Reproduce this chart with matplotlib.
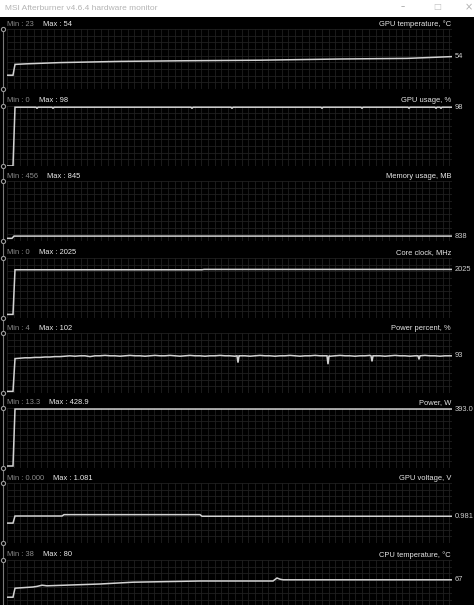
import matplotlib.pyplot as plt
import matplotlib.transforms as mtransforms
from matplotlib.patches import Rectangle
from matplotlib.lines import Line2D
import numpy as np

W, H = 474, 610

# ---- data (t = sample position across the graph, 0..445) ----
gpu_temp_t = [0, 6, 8, 20, 53, 113, 173, 253, 333, 400, 430, 445]
gpu_temp_v = [23, 23, 41, 42, 44, 46, 47, 48, 50, 51, 53, 54]

gpu_usage_t = [0, 6, 8, 29, 30, 31, 45, 46, 47, 184, 185, 186, 224, 225, 226,
               314, 315, 316, 354, 355, 356, 401, 402, 403, 428, 429, 430,
               433, 434, 435, 445]
gpu_usage_v = [0, 0, 98, 98, 96, 98, 98, 96, 98, 98, 96, 98, 98, 96, 98,
               98, 96, 98, 98, 96, 98, 98, 96, 98, 98, 96, 98,
               98, 96, 98, 98]

mem_t = [0, 5, 7, 445]
mem_v = [456, 456, 838, 838]

clock_t = [0, 6, 8, 195, 197, 445]
clock_v = [150, 150, 2010, 2010, 2025, 2025]

power_pct_t = [0, 6] + list(range(8, 446, 5)) + [445]
power_pct_v = [4, 4,
               86, 87, 88, 88, 89, 89, 90, 90, 91, 91,
               92, 93, 92, 93, 93, 91, 93, 93, 94, 93,
               93, 92, 93, 94, 93, 93, 92, 93, 94, 93,
               93, 94, 93, 92, 93, 94, 93, 93, 92, 93,
               93, 94, 93, 93, 92, 93, 93, 92, 93, 94,
               93, 93, 92, 93, 93, 94, 93, 92, 93, 93,
               94, 93, 93, 92, 93, 94, 93, 93, 92, 93,
               93, 94, 93, 93, 92, 93, 94, 93, 93, 92,
               93, 93, 94, 93, 93, 92, 93, 93,
               93]
power_dip_t = [230, 231, 232, 320, 321, 322, 364, 365, 366, 411, 412, 413]
power_dip_v = [93, 76, 93, 93, 72, 93, 93, 79, 93, 93, 84, 93]

power_w_t = [0, 6, 8, 445]
power_w_v = [13.3, 13.3, 393.0, 393.0]

volt_t = [0, 6, 8, 55, 57, 193, 195, 445]
volt_v = [0.73, 0.73, 0.99, 0.99, 1.04, 1.04, 0.981, 0.981]

cpu_temp_t = [0, 6, 8, 26, 30, 35, 40, 93, 126, 193, 226, 266, 270, 273, 276, 386, 445]
cpu_temp_v = [38, 38, 53, 55, 56, 58, 57, 60, 63, 65, 65, 65, 70, 68, 67, 67, 67]

names = ["GPU temperature, °C", "GPU usage, %", "Memory usage, MB", "Core clock, MHz",
         "Power percent, %", "Power, W", "GPU voltage, V", "CPU temperature, °C"]
mins = ["23", "0", "456", "0", "4", "13.3", "0.000", "38"]
maxs = ["54", "98", "845", "2025", "102", "428.9", "1.081", "80"]
current = ["54", "98", "838", "2025", "93", "393.0", "0.981", "67"]
limits = [(0, 100), (0, 100), (0, 10240), (0, 2500), (0, 150), (0, 400), (0, 2.2), (0, 100)]

# merge power percent dips into the base trace
pp = sorted(zip(power_pct_t + power_dip_t, power_pct_v + power_dip_v))
power_pct_t2 = [p[0] for p in pp]
power_pct_v2 = [p[1] for p in pp]

series = [(gpu_temp_t, gpu_temp_v), (gpu_usage_t, gpu_usage_v), (mem_t, mem_v),
          (clock_t, clock_v), (power_pct_t2, power_pct_v2), (power_w_t, power_w_v),
          (volt_t, volt_v), (cpu_temp_t, cpu_temp_v)]

# ---- layout (pixels) ----
tops = [29, 106, 181, 258, 333, 408, 483, 560]
ph = 60
gx0, gw = 7, 445

font = 'Liberation Sans'
fig = plt.figure(figsize=(W / 100, H / 100), dpi=100, facecolor='black')
renderer = fig.canvas.get_renderer()


def fx(x):
    return x / W


def fy(y):
    return 1 - y / H


# title bar
fig.add_artist(Rectangle((0, fy(17)), 1, 17 / H, transform=fig.transFigure,
                         facecolor='white', edgecolor='none', zorder=5))
fig.text(fx(5), fy(8), "MSI Afterburner v4.6.4 hardware monitor", color='#b4b4b4',
         fontsize=6, family=font, va='center', ha='left', zorder=6)
fig.text(fx(403), fy(7), "–", color='#a0a0a0', fontsize=6, ha='center', va='center', zorder=6)
fig.text(fx(437), fy(7), "□", color='#c0c0c0', fontsize=6, ha='center', va='center', zorder=6)
fig.text(fx(469), fy(7), "×", color='#b0b0b0', fontsize=7, ha='center', va='center', zorder=6)

# left rail
fig.add_artist(Line2D([fx(3), fx(3)], [fy(tops[0]), fy(605)], transform=fig.transFigure,
                      color='#7a7a7a', lw=0.8))

for i, (t, v) in enumerate(series):
    top = tops[i]
    ax = fig.add_axes([fx(gx0), fy(top + ph), gw / W, ph / H])
    ax.set_facecolor('black')
    lo, hi = limits[i]
    ax.set_xlim(0, 445)
    ax.set_ylim(lo, hi)
    ax.set_xticks(np.arange(0, 446, 6.7))
    ax.set_yticks(np.linspace(lo, hi, 10))
    ax.grid(True, color='#202020', lw=0.6)
    ax.tick_params(length=0, labelbottom=False, labelleft=False)
    for s in ax.spines.values():
        s.set_visible(False)
    ax.plot(t, v, color='#d2d2d2', lw=1.1, solid_joinstyle='miter')

    tr = mtransforms.blended_transform_factory(ax.transAxes, ax.transData)
    ax.text(1 + 3 / gw, v[-1], current[i], transform=tr, color='#cfcfcf',
            fontsize=5.4, family=font, va='center', ha='left', clip_on=False)

    # header row
    hy = fy(top - 5)
    t1 = fig.text(fx(gx0), hy, "Min : " + mins[i], color='#8c8c8c', fontsize=5.4,
                  family=font, va='center', ha='left')
    bb = t1.get_window_extent(renderer)
    fig.text((bb.x1 + 9) / W, hy, "Max : " + maxs[i], color='#ececec', fontsize=5.4,
             family=font, va='center', ha='left')
    fig.text(fx(451), hy, names[i], color='#e8e8e8', fontsize=5.4, family=font,
             va='center', ha='right')

    # cut-off axis labels on the left rail
    fig.add_artist(Line2D([fx(3)], [fy(top)], transform=fig.transFigure, marker='o',
                          ms=3, mfc='black', mec='#9a9a9a', mew=0.8, ls='none'))
    fig.add_artist(Line2D([fx(3)], [fy(top + ph)], transform=fig.transFigure, marker='o',
                          ms=3, mfc='black', mec='#9a9a9a', mew=0.8, ls='none'))

# bottom window edge
fig.add_artist(Rectangle((0, 0), 1, 5 / H, transform=fig.transFigure,
                         facecolor='white', edgecolor='none', zorder=10))

fig.savefig('out.png', dpi=100, facecolor='black')
